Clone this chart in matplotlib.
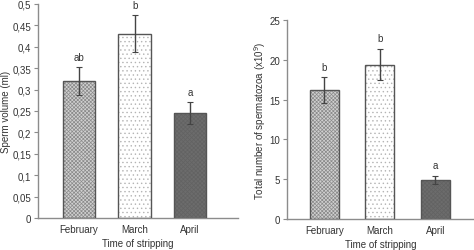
import matplotlib
matplotlib.use("Agg")
import matplotlib.pyplot as plt
from matplotlib.ticker import FuncFormatter

plt.rcParams['font.family'] = ['Liberation Sans', 'DejaVu Sans']
plt.rcParams['hatch.linewidth'] = 0.5

months = ["February", "March", "April"]

volume = [0.32, 0.43, 0.245]
volume_err = [0.032, 0.043, 0.025]
volume_letters = ["ab", "b", "a"]

sperm_total = [16.2, 19.4, 4.9]
sperm_err = [1.6, 2.0, 0.5]
sperm_letters = ["b", "b", "a"]

# fill, hatch, hatch colour per month
styles = [
    ("#d0d0d0", "xxxxxxxxx", "#8a8a8a"),
    ("#ffffff", "....", "#b4b4b4"),
    ("#6c6c6c", "xxxxxxxx", "#626262"),
]
axis_grey = "#8c8c8c"
text_grey = "#333333"


def draw_panel(ax, values, errs, letters, width, ylim, step, ylabel, fmt, xlim):
    x = range(len(values))
    for i, (fc, hatch, hc) in enumerate(styles):
        ax.bar(i, values[i], width, color=fc, hatch=hatch, edgecolor=hc,
               linewidth=0, zorder=2)
        ax.bar(i, values[i], width, fill=False, edgecolor="#555555",
               linewidth=1.0, zorder=3)
    ax.errorbar(list(x), values, yerr=errs, fmt="none", ecolor="#444444",
                elinewidth=1.0, capsize=2, capthick=0.8, zorder=4)
    for i, lab in enumerate(letters):
        ax.annotate(lab, (i, values[i] + errs[i]), xytext=(0, 4),
                    textcoords="offset points", ha="center", va="bottom",
                    fontsize=7, color=text_grey)
    ax.set_ylim(*ylim)
    ax.set_xlim(*xlim)
    ticks = [k * step for k in range(int(round(ylim[1] / step)) + 1)]
    ax.set_yticks(ticks)
    ax.yaxis.set_major_formatter(FuncFormatter(fmt))
    ax.set_xticks(list(x))
    ax.set_xticklabels(months)
    ax.tick_params(axis="x", length=0, labelsize=7, colors=text_grey, pad=4)
    ax.tick_params(axis="y", length=3, width=0.8, labelsize=7,
                   colors=axis_grey, labelcolor=text_grey, pad=2)
    for s in ("top", "right"):
        ax.spines[s].set_visible(False)
    for s in ("left", "bottom"):
        ax.spines[s].set_color(axis_grey)
        ax.spines[s].set_linewidth(1.0)
    ax.set_ylabel(ylabel, fontsize=7, color=text_grey, labelpad=1)
    ax.set_xlabel("Time of stripping", fontsize=7, color=text_grey, labelpad=3.5)


fig = plt.figure(figsize=(4.74, 2.51), dpi=100)
ax1 = fig.add_axes([0.080, 0.1275, 0.422, 0.853])
ax2 = fig.add_axes([0.605, 0.1235, 0.395, 0.793])


def comma(v, pos):
    if v == 0:
        return "0"
    return ("%.2f" % v).rstrip("0").replace(".", ",")


draw_panel(ax1, volume, volume_err, volume_letters, 0.58, (0, 0.5), 0.05,
           "Sperm volume (ml)", comma, (-0.74, 2.86))
draw_panel(ax2, sperm_total, sperm_err, sperm_letters, 0.52, (0, 25), 5,
           "Total number of spermatozoa (x10$^9$)",
           lambda v, p: "%d" % v, (-0.68, 2.7))

fig.savefig("out.png", dpi=100)
